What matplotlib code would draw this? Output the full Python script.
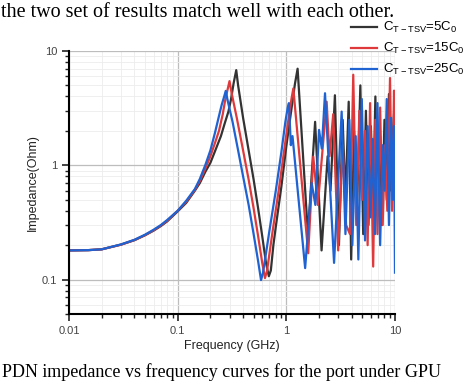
import numpy as np
import matplotlib
matplotlib.use('Agg')
import matplotlib.pyplot as plt
from matplotlib.ticker import LogLocator, NullFormatter

plt.rcParams['font.family'] = ['Liberation Sans', 'DejaVu Sans']
plt.rcParams['mathtext.default'] = 'regular'

# frequency (GHz) / impedance (Ohm)
f_5c0 = [0.01, 0.015, 0.02, 0.03, 0.04, 0.05, 0.06, 0.07, 0.08, 0.1, 0.12, 0.144, 0.16, 0.18, 0.2,
         0.22, 0.25, 0.27, 0.293, 0.31, 0.327, 0.346, 0.36, 0.4, 0.45, 0.5, 0.55, 0.6, 0.65, 0.69,
         0.72, 0.76, 0.8, 0.9, 1.0, 1.1, 1.2, 1.27, 1.58, 1.84, 2.11, 2.4, 2.55, 2.8, 3.05, 3.3,
         3.5, 3.75, 3.95, 4.2, 4.45, 4.8, 5.1, 5.4, 5.7, 6.0, 6.3, 6.6, 6.9, 7.3, 7.6, 8.0, 8.4,
         8.8, 9.2, 9.6, 10.0]
z_5c0 = [0.18, 0.181, 0.184, 0.202, 0.221, 0.244, 0.268, 0.294, 0.323, 0.395, 0.47, 0.6, 0.7, 0.88, 1.05,
         1.32, 1.8, 2.3, 2.95, 3.8, 5.2, 6.8, 5.0, 2.6, 1.35, 0.75, 0.42, 0.24, 0.14, 0.107,
         0.12, 0.2, 0.29, 0.65, 1.47, 2.84, 5.15, 7.0, 0.25, 2.4, 0.18, 1.2, 0.6, 4.1, 0.2, 2.5,
         0.5, 3.6, 0.15, 2.0, 0.35, 5.0, 0.25, 3.0, 0.3, 2.2, 0.5, 4.0, 0.4, 1.8, 0.3, 2.5, 0.5,
         4.2, 0.6, 2.0, 4.0]

f_15c0 = [0.01, 0.015, 0.02, 0.03, 0.04, 0.05, 0.06, 0.07, 0.08, 0.1, 0.12, 0.144, 0.16, 0.18, 0.2,
          0.22, 0.24, 0.26, 0.272, 0.288, 0.3, 0.315, 0.35, 0.4, 0.45, 0.5, 0.55, 0.6, 0.636, 0.665,
          0.7, 0.75, 0.85, 0.95, 1.05, 1.12, 1.16, 1.59, 1.77, 1.95, 2.35, 2.5, 2.7, 3.0, 3.3, 3.55,
          3.85, 4.13, 4.4, 4.7, 5.0, 5.3, 5.6, 5.9, 6.3, 6.6, 6.9, 7.3, 7.7, 8.1, 8.5, 9.0, 9.4,
          9.8, 10.0]
z_15c0 = [0.18, 0.181, 0.184, 0.202, 0.222, 0.245, 0.27, 0.297, 0.327, 0.4, 0.48, 0.61, 0.73, 0.94, 1.2,
          1.56, 2.0, 2.8, 3.6, 4.6, 5.45, 4.2, 2.6, 1.35, 0.75, 0.42, 0.24, 0.14, 0.103, 0.12,
          0.17, 0.27, 0.6, 1.3, 2.6, 3.9, 4.7, 0.17, 1.19, 0.45, 3.6, 1.2, 2.8, 0.18, 1.5, 0.3,
          0.25, 6.2, 0.3, 3.0, 0.5, 2.0, 0.2, 3.5, 0.13, 2.5, 0.25, 3.2, 0.3, 1.5, 0.4, 5.8, 0.4,
          4.5, 1.0]

f_25c0 = [0.01, 0.015, 0.02, 0.03, 0.04, 0.05, 0.06, 0.07, 0.08, 0.1, 0.12, 0.144, 0.16, 0.18, 0.2,
          0.22, 0.24, 0.254, 0.268, 0.277, 0.29, 0.32, 0.36, 0.4, 0.45, 0.5, 0.55, 0.585, 0.61, 0.65,
          0.7, 0.8, 0.9, 0.98, 1.03, 1.057, 1.1, 1.14, 1.49, 1.71, 1.85, 2.0, 2.12, 2.27, 2.75, 3.23,
          3.5, 3.8, 4.05, 4.35, 4.6, 4.95, 5.3, 5.6, 5.95, 6.25, 6.55, 6.9, 7.3, 7.7, 8.0, 8.4,
          8.8, 9.2, 9.5, 9.8, 10.0]
z_25c0 = [0.18, 0.181, 0.184, 0.203, 0.223, 0.247, 0.273, 0.3, 0.332, 0.4, 0.49, 0.62, 0.76, 1.01, 1.35,
          1.91, 2.7, 3.37, 4.0, 4.48, 3.6, 2.4, 1.35, 0.8, 0.45, 0.25, 0.145, 0.099, 0.115, 0.17,
          0.27, 0.6, 1.3, 2.4, 3.2, 3.5, 1.5, 1.8, 0.126, 0.7, 0.45, 2.04, 1.4, 4.27, 0.14, 2.95,
          0.25, 2.5, 0.2, 1.8, 0.15, 3.8, 0.22, 2.2, 0.35, 1.7, 0.25, 3.5, 0.2, 1.5, 0.6, 3.8,
          0.3, 2.6, 0.5, 2.2, 0.115]

labels = ['C$_{T-TSV}$=5C$_0$', 'C$_{T-TSV}$=15C$_0$', 'C$_{T-TSV}$=25C$_0$']
colors = ['#333333', '#e0393b', '#1f62d2']

fig = plt.figure(figsize=(4.74, 3.84), dpi=100)
ax = fig.add_axes([0.1456, 0.1823, 0.6877, 0.6849])

lines = []
for fx, zx, lab, col in zip([f_5c0, f_15c0, f_25c0], [z_5c0, z_15c0, z_25c0], labels, colors):
    ln, = ax.plot(fx, zx, color=col, lw=1.6, label=lab)
    lines.append(ln)

ax.set_xscale('log')
ax.set_yscale('log')
ax.set_xlim(0.01, 10)
ax.set_ylim(0.05, 10)

ax.set_xticks([0.01, 0.1, 1, 10])
ax.set_xticklabels(['0.01', '0.1', '1', '10'])
ax.set_yticks([0.1, 1, 10])
ax.set_yticklabels(['0.1', '1', '10'])
ax.xaxis.set_minor_locator(LogLocator(base=10, subs=np.arange(2, 10)))
ax.yaxis.set_minor_locator(LogLocator(base=10, subs=np.arange(2, 10)))
ax.xaxis.set_minor_formatter(NullFormatter())
ax.yaxis.set_minor_formatter(NullFormatter())

ax.tick_params(which='major', direction='out', length=5, width=1.2, labelsize=8, colors='#222222',
               labelcolor='#444444')
ax.tick_params(which='minor', direction='out', length=3, width=1.0, colors='#222222')

ax.grid(which='major', color='#bdbdbd', lw=0.9)
ax.grid(which='minor', color='#ececec', lw=0.6)
ax.set_axisbelow(True)

for s in ['top', 'right']:
    ax.spines[s].set_visible(False)
for s in ['left', 'bottom']:
    ax.spines[s].set_linewidth(1.5)

ax.set_xlabel('Frequency (GHz)', fontsize=9, color='#222222', labelpad=3)
ax.set_ylabel('Impedance(Ohm)', fontsize=9, color='#222222', labelpad=2)

fig.legend(handles=lines, loc='upper right', bbox_to_anchor=(1.005, 0.978), frameon=False,
           fontsize=9.5, handlelength=2.0, handletextpad=0.4, labelspacing=0.45)

# caption fragments at the picture edges
fig.text(0.003, 0.993, 'the two set of results match well with each other.', fontsize=14.5,
         family='Liberation Serif', va='top', ha='left')
fig.text(0.004, 0.018, 'PDN impedance vs frequency curves for the port under GPU', fontsize=13,
         family='Liberation Serif', va='baseline', ha='left')

fig.savefig('out.png', dpi=100)
